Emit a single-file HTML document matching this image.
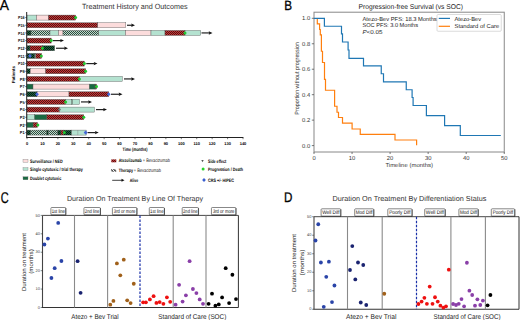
<!DOCTYPE html><html><head><meta charset="utf-8"><style>html,body{margin:0;padding:0;background:#fff;width:520px;height:320px;overflow:hidden;position:relative}</style></head><body><svg width="520" height="320" viewBox="0 0 520 320" style="position:absolute;left:0;top:0;font-family:'Liberation Sans', sans-serif;text-rendering:geometricPrecision">
<defs>
<pattern id="pr" width="2" height="2" patternUnits="userSpaceOnUse"><rect width="2" height="2" fill="#c83434"/><rect width="1" height="1" fill="#521414"/><rect x="1" y="1" width="1" height="1" fill="#521414"/></pattern>
<pattern id="pg" width="2" height="2" patternUnits="userSpaceOnUse"><rect width="2" height="2" fill="#b8e0cd"/><rect width="1" height="1" fill="#34443c"/><rect x="1" y="1" width="1" height="1" fill="#34443c"/></pattern>
<pattern id="pd" width="2" height="2" patternUnits="userSpaceOnUse"><rect width="2" height="2" fill="#186440"/><rect width="1" height="1" fill="#06180e"/><rect x="1" y="1" width="1" height="1" fill="#06180e"/></pattern>
</defs>
<rect width="520" height="320" fill="#fff"/>
<text x="-0.3" y="10.2" font-size="14.5" fill="#000" font-weight="normal" text-anchor="start" textLength="9.2" lengthAdjust="spacingAndGlyphs" stroke="#000" stroke-width="0.3" style="">A</text>
<text x="284.2" y="10.25" font-size="13.3" fill="#000" font-weight="normal" text-anchor="start" textLength="7.8" lengthAdjust="spacingAndGlyphs" stroke="#000" stroke-width="0.3" style="">B</text>
<text x="0.8" y="202.6" font-size="15.5" fill="#000" font-weight="normal" text-anchor="start" textLength="7.9" lengthAdjust="spacingAndGlyphs" stroke="#000" stroke-width="0.3" style="">C</text>
<text x="284.0" y="201.9" font-size="14.0" fill="#000" font-weight="normal" text-anchor="start" textLength="8.4" lengthAdjust="spacingAndGlyphs" stroke="#000" stroke-width="0.3" style="">D</text>
<text x="82" y="9.4" font-size="7.5" fill="#333" font-weight="normal" text-anchor="start" textLength="105.5" lengthAdjust="spacingAndGlyphs"  style="">Treatment History and Outcomes</text>
<rect x="27" y="15.09" width="9.50" height="5.0" fill="#b4e2d0" stroke="#555" stroke-width="0.4"/>
<rect x="36.5" y="15.09" width="12.00" height="5.0" fill="#fcdcdc" stroke="#555" stroke-width="0.4"/>
<rect x="48.5" y="15.09" width="27.10" height="5.0" fill="url(#pr)" stroke="#555" stroke-width="0.4"/>
<circle cx="75.6" cy="17.59" r="1.5" fill="#22c832"/>
<text x="24.6" y="19.195" font-size="4.5" fill="#111" font-weight="bold" text-anchor="end" textLength="6.6" lengthAdjust="spacingAndGlyphs"  style="">P16</text>
<line x1="25.2" y1="17.59" x2="27" y2="17.59" stroke="#222" stroke-width="0.6"/>
<rect x="27" y="22.76" width="70.80" height="5.0" fill="url(#pr)" stroke="#555" stroke-width="0.4"/>
<rect x="97.8" y="22.76" width="28.00" height="5.0" fill="#fcdcdc" stroke="#555" stroke-width="0.4"/>
<line x1="127" y1="25.26" x2="132" y2="25.26" stroke="#222" stroke-width="1.2"/>
<polygon points="131.2,23.56 135,25.26 131.2,26.96 131.8,25.26" fill="#111"/>
<text x="24.6" y="26.862000000000002" font-size="4.5" fill="#111" font-weight="bold" text-anchor="end" textLength="6.6" lengthAdjust="spacingAndGlyphs"  style="">P15</text>
<line x1="25.2" y1="25.26" x2="27" y2="25.26" stroke="#222" stroke-width="0.6"/>
<rect x="27" y="30.43" width="4.00" height="5.0" fill="url(#pd)" stroke="#555" stroke-width="0.4"/>
<rect x="31" y="30.43" width="19.00" height="5.0" fill="url(#pg)" stroke="#555" stroke-width="0.4"/>
<rect x="50" y="30.43" width="8.50" height="5.0" fill="#b4e2d0" stroke="#555" stroke-width="0.4"/>
<rect x="58.5" y="30.43" width="4.50" height="5.0" fill="#fcdcdc" stroke="#555" stroke-width="0.4"/>
<rect x="63" y="30.43" width="35.75" height="5.0" fill="url(#pg)" stroke="#555" stroke-width="0.4"/>
<rect x="98.75" y="30.43" width="26.75" height="5.0" fill="#b4e2d0" stroke="#555" stroke-width="0.4"/>
<rect x="125.5" y="30.43" width="25.50" height="5.0" fill="#fcdcdc" stroke="#555" stroke-width="0.4"/>
<rect x="151" y="30.43" width="14.00" height="5.0" fill="#b4e2d0" stroke="#555" stroke-width="0.4"/>
<rect x="165" y="30.43" width="20.00" height="5.0" fill="url(#pr)" stroke="#555" stroke-width="0.4"/>
<rect x="185" y="30.43" width="15.75" height="5.0" fill="#b4e2d0" stroke="#555" stroke-width="0.4"/>
<line x1="201.5" y1="32.93" x2="209.5" y2="32.93" stroke="#222" stroke-width="1.2"/>
<polygon points="208.7,31.23 212.5,32.93 208.7,34.63 209.3,32.93" fill="#111"/>
<circle cx="185" cy="32.93" r="1.5" fill="#22c832"/>
<text x="24.6" y="34.529" font-size="4.5" fill="#111" font-weight="bold" text-anchor="end" textLength="6.6" lengthAdjust="spacingAndGlyphs"  style="">P14</text>
<line x1="25.2" y1="32.93" x2="27" y2="32.93" stroke="#222" stroke-width="0.6"/>
<rect x="27" y="38.10" width="24.25" height="5.0" fill="url(#pr)" stroke="#555" stroke-width="0.4"/>
<line x1="53" y1="40.60" x2="61" y2="40.60" stroke="#222" stroke-width="1.2"/>
<polygon points="60.2,38.90 64,40.60 60.2,42.30 60.8,40.60" fill="#111"/>
<circle cx="51.25" cy="40.60" r="1.5" fill="#22c832"/>
<text x="24.6" y="42.196000000000005" font-size="4.5" fill="#111" font-weight="bold" text-anchor="end" textLength="6.6" lengthAdjust="spacingAndGlyphs"  style="">P13</text>
<line x1="25.2" y1="40.60" x2="27" y2="40.60" stroke="#222" stroke-width="0.6"/>
<rect x="27" y="45.76" width="3.00" height="5.0" fill="url(#pd)" stroke="#555" stroke-width="0.4"/>
<rect x="30" y="45.76" width="12.50" height="5.0" fill="url(#pr)" stroke="#555" stroke-width="0.4"/>
<rect x="42.5" y="45.76" width="12.10" height="5.0" fill="url(#pd)" stroke="#555" stroke-width="0.4"/>
<line x1="56" y1="48.26" x2="65" y2="48.26" stroke="#222" stroke-width="1.2"/>
<polygon points="64.2,46.56 68,48.26 64.2,49.96 64.8,48.26" fill="#111"/>
<circle cx="42.5" cy="48.26" r="1.5" fill="#22c832"/>
<text x="24.6" y="49.86299999999999" font-size="4.5" fill="#111" font-weight="bold" text-anchor="end" textLength="6.6" lengthAdjust="spacingAndGlyphs"  style="">P12</text>
<line x1="25.2" y1="48.26" x2="27" y2="48.26" stroke="#222" stroke-width="0.6"/>
<rect x="27" y="53.43" width="7.90" height="5.0" fill="url(#pd)" stroke="#555" stroke-width="0.4"/>
<rect x="34.9" y="53.43" width="0.95" height="5.0" fill="#b4e2d0" stroke="#555" stroke-width="0.4"/>
<rect x="35.85" y="53.43" width="5.75" height="5.0" fill="url(#pr)" stroke="#555" stroke-width="0.4"/>
<circle cx="41.3" cy="55.93" r="1.5" fill="#22c832"/>
<polygon points="30,53.83 31.9,55.93 30,58.03 28.1,55.93" fill="#4466d8"/>
<text x="24.6" y="57.529999999999994" font-size="4.5" fill="#111" font-weight="bold" text-anchor="end" textLength="6.6" lengthAdjust="spacingAndGlyphs"  style="">P11</text>
<line x1="25.2" y1="55.93" x2="27" y2="55.93" stroke="#222" stroke-width="0.6"/>
<rect x="27" y="61.10" width="57.40" height="5.0" fill="url(#pr)" stroke="#555" stroke-width="0.4"/>
<line x1="86.25" y1="63.60" x2="94.5" y2="63.60" stroke="#222" stroke-width="1.2"/>
<polygon points="93.7,61.90 97.5,63.60 93.7,65.30 94.3,63.60" fill="#111"/>
<circle cx="84.4" cy="63.60" r="1.5" fill="#22c832"/>
<text x="24.6" y="65.19699999999999" font-size="4.5" fill="#111" font-weight="bold" text-anchor="end" textLength="6.6" lengthAdjust="spacingAndGlyphs"  style="">P10</text>
<line x1="25.2" y1="63.60" x2="27" y2="63.60" stroke="#222" stroke-width="0.6"/>
<rect x="27" y="68.76" width="3.25" height="5.0" fill="url(#pd)" stroke="#555" stroke-width="0.4"/>
<rect x="30.25" y="68.76" width="15.35" height="5.0" fill="#fcdcdc" stroke="#555" stroke-width="0.4"/>
<rect x="45.6" y="68.76" width="40.00" height="5.0" fill="url(#pr)" stroke="#555" stroke-width="0.4"/>
<circle cx="85.6" cy="71.26" r="1.5" fill="#22c832"/>
<text x="24.6" y="72.86399999999999" font-size="4.5" fill="#111" font-weight="bold" text-anchor="end" textLength="4.8" lengthAdjust="spacingAndGlyphs"  style="">P9</text>
<line x1="25.2" y1="71.26" x2="27" y2="71.26" stroke="#222" stroke-width="0.6"/>
<rect x="27" y="76.43" width="52.40" height="5.0" fill="url(#pr)" stroke="#555" stroke-width="0.4"/>
<rect x="79.4" y="76.43" width="42.85" height="5.0" fill="#b4e2d0" stroke="#555" stroke-width="0.4"/>
<line x1="124" y1="78.93" x2="132" y2="78.93" stroke="#222" stroke-width="1.2"/>
<polygon points="131.2,77.23 135,78.93 131.2,80.63 131.8,78.93" fill="#111"/>
<circle cx="79.4" cy="78.93" r="1.5" fill="#22c832"/>
<text x="24.6" y="80.53099999999999" font-size="4.5" fill="#111" font-weight="bold" text-anchor="end" textLength="4.8" lengthAdjust="spacingAndGlyphs"  style="">P8</text>
<line x1="25.2" y1="78.93" x2="27" y2="78.93" stroke="#222" stroke-width="0.6"/>
<rect x="27" y="84.10" width="6.00" height="5.0" fill="#1a6a42" stroke="#555" stroke-width="0.4"/>
<rect x="33" y="84.10" width="56.40" height="5.0" fill="#fcdcdc" stroke="#555" stroke-width="0.4"/>
<rect x="89.4" y="84.10" width="5.60" height="5.0" fill="#1a6a42" stroke="#555" stroke-width="0.4"/>
<rect x="95" y="84.10" width="1.50" height="5.0" fill="url(#pr)" stroke="#555" stroke-width="0.4"/>
<circle cx="96.5" cy="86.60" r="1.5" fill="#22c832"/>
<text x="24.6" y="88.198" font-size="4.5" fill="#111" font-weight="bold" text-anchor="end" textLength="4.8" lengthAdjust="spacingAndGlyphs"  style="">P7</text>
<line x1="25.2" y1="86.60" x2="27" y2="86.60" stroke="#222" stroke-width="0.6"/>
<rect x="27" y="91.76" width="10.00" height="5.0" fill="url(#pd)" stroke="#555" stroke-width="0.4"/>
<rect x="37" y="91.76" width="32.00" height="5.0" fill="#fcdcdc" stroke="#555" stroke-width="0.4"/>
<rect x="69" y="91.76" width="39.75" height="5.0" fill="url(#pr)" stroke="#555" stroke-width="0.4"/>
<line x1="111" y1="94.26" x2="119.5" y2="94.26" stroke="#222" stroke-width="1.2"/>
<polygon points="118.7,92.56 122.5,94.26 118.7,95.96 119.3,94.26" fill="#111"/>
<polygon points="37,92.16 38.9,94.26 37,96.36 35.1,94.26" fill="#4466d8"/>
<polygon points="108.75,92.16 110.65,94.26 108.75,96.36 106.85,94.26" fill="#4466d8"/>
<text x="24.6" y="95.86499999999998" font-size="4.5" fill="#111" font-weight="bold" text-anchor="end" textLength="4.8" lengthAdjust="spacingAndGlyphs"  style="">P6</text>
<line x1="25.2" y1="94.26" x2="27" y2="94.26" stroke="#222" stroke-width="0.6"/>
<rect x="27" y="99.43" width="38.60" height="5.0" fill="url(#pr)" stroke="#555" stroke-width="0.4"/>
<rect x="65.6" y="99.43" width="14.00" height="5.0" fill="#b4e2d0" stroke="#555" stroke-width="0.4"/>
<rect x="71.2" y="99.43" width="1.60" height="5.0" fill="#9cc4b0" stroke="#555" stroke-width="0.4"/>
<line x1="81" y1="101.93" x2="89" y2="101.93" stroke="#222" stroke-width="1.2"/>
<polygon points="88.2,100.23 92,101.93 88.2,103.63 88.8,101.93" fill="#111"/>
<circle cx="65.6" cy="101.93" r="1.5" fill="#22c832"/>
<text x="24.6" y="103.53199999999998" font-size="4.5" fill="#111" font-weight="bold" text-anchor="end" textLength="4.8" lengthAdjust="spacingAndGlyphs"  style="">P5</text>
<line x1="25.2" y1="101.93" x2="27" y2="101.93" stroke="#222" stroke-width="0.6"/>
<rect x="27" y="107.10" width="32.40" height="5.0" fill="url(#pr)" stroke="#555" stroke-width="0.4"/>
<rect x="59.4" y="107.10" width="35.00" height="5.0" fill="#b4e2d0" stroke="#555" stroke-width="0.4"/>
<line x1="96" y1="109.60" x2="104" y2="109.60" stroke="#222" stroke-width="1.2"/>
<polygon points="103.2,107.90 107,109.60 103.2,111.30 103.8,109.60" fill="#111"/>
<polygon points="59.4,107.80 61.0,109.60 59.4,111.40 57.8,109.60" fill="#777"/>
<text x="24.6" y="111.19899999999998" font-size="4.5" fill="#111" font-weight="bold" text-anchor="end" textLength="4.8" lengthAdjust="spacingAndGlyphs"  style="">P4</text>
<line x1="25.2" y1="109.60" x2="27" y2="109.60" stroke="#222" stroke-width="0.6"/>
<rect x="27" y="114.77" width="7.75" height="5.0" fill="#b4e2d0" stroke="#555" stroke-width="0.4"/>
<rect x="34.75" y="114.77" width="12.15" height="5.0" fill="#1a6a42" stroke="#555" stroke-width="0.4"/>
<rect x="46.9" y="114.77" width="36.85" height="5.0" fill="url(#pr)" stroke="#555" stroke-width="0.4"/>
<circle cx="83.75" cy="117.27" r="1.5" fill="#22c832"/>
<text x="24.6" y="118.86599999999999" font-size="4.5" fill="#111" font-weight="bold" text-anchor="end" textLength="4.8" lengthAdjust="spacingAndGlyphs"  style="">P3</text>
<line x1="25.2" y1="117.27" x2="27" y2="117.27" stroke="#222" stroke-width="0.6"/>
<rect x="27" y="122.43" width="6.10" height="5.0" fill="#1a6a42" stroke="#555" stroke-width="0.4"/>
<rect x="33.1" y="122.43" width="4.40" height="5.0" fill="url(#pr)" stroke="#555" stroke-width="0.4"/>
<circle cx="37.8" cy="124.93" r="1.5" fill="#22c832"/>
<text x="24.6" y="126.53299999999999" font-size="4.5" fill="#111" font-weight="bold" text-anchor="end" textLength="4.8" lengthAdjust="spacingAndGlyphs"  style="">P2</text>
<line x1="25.2" y1="124.93" x2="27" y2="124.93" stroke="#222" stroke-width="0.6"/>
<rect x="27" y="130.10" width="3.80" height="5.0" fill="url(#pd)" stroke="#555" stroke-width="0.4"/>
<rect x="30.8" y="130.10" width="15.80" height="5.0" fill="url(#pg)" stroke="#555" stroke-width="0.4"/>
<rect x="46.6" y="130.10" width="2.00" height="5.0" fill="url(#pd)" stroke="#555" stroke-width="0.4"/>
<rect x="48.6" y="130.10" width="9.10" height="5.0" fill="url(#pg)" stroke="#555" stroke-width="0.4"/>
<rect x="57.7" y="130.10" width="3.30" height="5.0" fill="url(#pd)" stroke="#555" stroke-width="0.4"/>
<rect x="61" y="130.10" width="2.50" height="5.0" fill="url(#pr)" stroke="#555" stroke-width="0.4"/>
<rect x="63.5" y="130.10" width="8.10" height="5.0" fill="url(#pd)" stroke="#555" stroke-width="0.4"/>
<rect x="71.6" y="130.10" width="14.65" height="5.0" fill="#b4e2d0" stroke="#555" stroke-width="0.4"/>
<line x1="77.8" y1="130.10" x2="77.8" y2="135.10" stroke="#777" stroke-width="0.4"/>
<line x1="87.5" y1="132.60" x2="95.75" y2="132.60" stroke="#222" stroke-width="1.2"/>
<polygon points="94.95,130.90 98.75,132.60 94.95,134.30 95.55,132.60" fill="#111"/>
<circle cx="64.4" cy="132.60" r="1.5" fill="#22c832"/>
<polygon points="85.6,130.50 87.5,132.60 85.6,134.70 83.69999999999999,132.60" fill="#4466d8"/>
<text x="24.6" y="134.2" font-size="4.5" fill="#111" font-weight="bold" text-anchor="end" textLength="4.8" lengthAdjust="spacingAndGlyphs"  style="">P1</text>
<line x1="25.2" y1="132.60" x2="27" y2="132.60" stroke="#222" stroke-width="0.6"/>
<line x1="26.7" y1="12" x2="26.7" y2="137.5" stroke="#222" stroke-width="1"/>
<line x1="26.2" y1="137.5" x2="243.4" y2="137.5" stroke="#222" stroke-width="1"/>
<line x1="27.00" y1="137.5" x2="27.00" y2="139.2" stroke="#222" stroke-width="0.6"/>
<text x="27.0" y="144.5" font-size="4.0" fill="#000" font-weight="bold" text-anchor="middle"  style="">0</text>
<line x1="42.43" y1="137.5" x2="42.43" y2="139.2" stroke="#222" stroke-width="0.6"/>
<text x="42.43" y="144.5" font-size="4.0" fill="#000" font-weight="bold" text-anchor="middle"  style="">10</text>
<line x1="57.86" y1="137.5" x2="57.86" y2="139.2" stroke="#222" stroke-width="0.6"/>
<text x="57.86" y="144.5" font-size="4.0" fill="#000" font-weight="bold" text-anchor="middle"  style="">20</text>
<line x1="73.29" y1="137.5" x2="73.29" y2="139.2" stroke="#222" stroke-width="0.6"/>
<text x="73.29" y="144.5" font-size="4.0" fill="#000" font-weight="bold" text-anchor="middle"  style="">30</text>
<line x1="88.72" y1="137.5" x2="88.72" y2="139.2" stroke="#222" stroke-width="0.6"/>
<text x="88.72" y="144.5" font-size="4.0" fill="#000" font-weight="bold" text-anchor="middle"  style="">40</text>
<line x1="104.15" y1="137.5" x2="104.15" y2="139.2" stroke="#222" stroke-width="0.6"/>
<text x="104.15" y="144.5" font-size="4.0" fill="#000" font-weight="bold" text-anchor="middle"  style="">50</text>
<line x1="119.58" y1="137.5" x2="119.58" y2="139.2" stroke="#222" stroke-width="0.6"/>
<text x="119.58" y="144.5" font-size="4.0" fill="#000" font-weight="bold" text-anchor="middle"  style="">60</text>
<line x1="135.01" y1="137.5" x2="135.01" y2="139.2" stroke="#222" stroke-width="0.6"/>
<text x="135.01" y="144.5" font-size="4.0" fill="#000" font-weight="bold" text-anchor="middle"  style="">70</text>
<line x1="150.44" y1="137.5" x2="150.44" y2="139.2" stroke="#222" stroke-width="0.6"/>
<text x="150.44" y="144.5" font-size="4.0" fill="#000" font-weight="bold" text-anchor="middle"  style="">80</text>
<line x1="165.87" y1="137.5" x2="165.87" y2="139.2" stroke="#222" stroke-width="0.6"/>
<text x="165.87" y="144.5" font-size="4.0" fill="#000" font-weight="bold" text-anchor="middle"  style="">90</text>
<line x1="181.30" y1="137.5" x2="181.30" y2="139.2" stroke="#222" stroke-width="0.6"/>
<text x="181.3" y="144.5" font-size="4.0" fill="#000" font-weight="bold" text-anchor="middle"  style="">100</text>
<line x1="196.73" y1="137.5" x2="196.73" y2="139.2" stroke="#222" stroke-width="0.6"/>
<text x="196.73" y="144.5" font-size="4.0" fill="#000" font-weight="bold" text-anchor="middle"  style="">110</text>
<line x1="212.16" y1="137.5" x2="212.16" y2="139.2" stroke="#222" stroke-width="0.6"/>
<text x="212.16" y="144.5" font-size="4.0" fill="#000" font-weight="bold" text-anchor="middle"  style="">120</text>
<line x1="227.59" y1="137.5" x2="227.59" y2="139.2" stroke="#222" stroke-width="0.6"/>
<text x="227.59" y="144.5" font-size="4.0" fill="#000" font-weight="bold" text-anchor="middle"  style="">130</text>
<line x1="243.02" y1="137.5" x2="243.02" y2="139.2" stroke="#222" stroke-width="0.6"/>
<text x="243.02" y="144.5" font-size="4.0" fill="#000" font-weight="bold" text-anchor="middle"  style="">140</text>
<text x="135" y="151.2" font-size="4.9" fill="#000" font-weight="bold" text-anchor="middle" textLength="25" lengthAdjust="spacingAndGlyphs"  style="">Time (months)</text>
<text x="0" y="0" font-size="4.4" fill="#111" font-weight="bold" text-anchor="middle" transform="translate(15.3,74.7) rotate(-90)" style="">Patients</text>
<rect x="23" y="159.4" width="5" height="2.9" fill="#fcdcdc" stroke="#777" stroke-width="0.35"/>
<text x="30.1" y="162.5" font-size="4.9" fill="#000" font-weight="bold" text-anchor="start" textLength="32.5" lengthAdjust="spacingAndGlyphs"  style="">Surveillance / NED</text>
<rect x="23" y="167.7" width="5" height="2.7" fill="#b4e2d0" stroke="#777" stroke-width="0.35"/>
<text x="30.1" y="170.7" font-size="4.9" fill="#000" font-weight="bold" text-anchor="start" textLength="52.7" lengthAdjust="spacingAndGlyphs"  style="">Single cytotoxic / trial therapy</text>
<rect x="23" y="176.8" width="5" height="3.0" fill="#1a6a42" stroke="#777" stroke-width="0.35"/>
<text x="30.1" y="179.9" font-size="4.9" fill="#000" font-weight="bold" text-anchor="start" textLength="31.1" lengthAdjust="spacingAndGlyphs"  style="">Doublet cytotoxic</text>
<rect x="111.3" y="159.4" width="5" height="2.9" fill="url(#pr)"/>
<text x="118.7" y="162.2" font-size="4.9" fill="#000" font-weight="bold" text-anchor="start" textLength="23.1" lengthAdjust="spacingAndGlyphs"  style="">Atezolizumab</text>
<text x="142.8" y="162.3" font-size="5.0" fill="#222" font-weight="normal" text-anchor="start" textLength="27.2" lengthAdjust="spacingAndGlyphs"  style="">+ Bevacizumab</text>
<path d="M111.3,169.1 L113.6,171.8 M113.3,169.1 L115.6,171.8 M111.3,170.3 L112.4,171.8 M114.5,169.1 L116.2,171.2" stroke="#222" stroke-width="0.8"/>
<text x="118.7" y="171.9" font-size="4.9" fill="#000" font-weight="bold" text-anchor="start" textLength="14.4" lengthAdjust="spacingAndGlyphs"  style="">Therapy</text>
<text x="133.8" y="171.8" font-size="5.0" fill="#222" font-weight="normal" text-anchor="start" textLength="27.2" lengthAdjust="spacingAndGlyphs"  style="">+ Bevacizumab</text>
<line x1="112.2" y1="180.3" x2="122" y2="180.3" stroke="#111" stroke-width="0.8"/><polygon points="121.5,178.8 124.5,180.3 121.5,181.8" fill="#111"/>
<text x="129.8" y="181.9" font-size="4.9" fill="#000" font-weight="bold" text-anchor="start" textLength="8.4" lengthAdjust="spacingAndGlyphs"  style="">Alive</text>
<polygon points="201.3,159.9 203.7,159.9 202.5,162.3" fill="#555"/>
<text x="208" y="162.6" font-size="4.9" fill="#000" font-weight="bold" text-anchor="start" textLength="18.25" lengthAdjust="spacingAndGlyphs"  style="">Side effect</text>
<circle cx="203.1" cy="169.1" r="1.5" fill="#2bd42b"/>
<text x="208" y="171.0" font-size="4.9" fill="#000" font-weight="bold" text-anchor="start" textLength="35" lengthAdjust="spacingAndGlyphs"  style="">Progression / Death</text>
<polygon points="204,178.0 205.9,180 204,182.0 202.1,180" fill="#3a5fd0"/>
<text x="208" y="181.6" font-size="4.9" fill="#000" font-weight="bold" text-anchor="start" textLength="26" lengthAdjust="spacingAndGlyphs"  style="">CRS +/- HIPEC</text>
<text x="358.5" y="8.6" font-size="7" fill="#222" font-weight="normal" text-anchor="start" textLength="104.5" lengthAdjust="spacingAndGlyphs"  style="">Progression-free Survival (vs SOC)</text>
<rect x="314" y="12.2" width="190.25" height="139.8" fill="none" stroke="#888" stroke-width="1"/>
<line x1="311.8" y1="145.60" x2="314" y2="145.60" stroke="#444" stroke-width="0.7"/>
<text x="310.2" y="147.7" font-size="5.8" fill="#333" font-weight="normal" text-anchor="end" textLength="8.1" lengthAdjust="spacingAndGlyphs"  style="">0.0</text>
<line x1="311.8" y1="120.14" x2="314" y2="120.14" stroke="#444" stroke-width="0.7"/>
<text x="310.2" y="122.24" font-size="5.8" fill="#333" font-weight="normal" text-anchor="end" textLength="8.1" lengthAdjust="spacingAndGlyphs"  style="">0.2</text>
<line x1="311.8" y1="94.68" x2="314" y2="94.68" stroke="#444" stroke-width="0.7"/>
<text x="310.2" y="96.78" font-size="5.8" fill="#333" font-weight="normal" text-anchor="end" textLength="8.1" lengthAdjust="spacingAndGlyphs"  style="">0.4</text>
<line x1="311.8" y1="69.22" x2="314" y2="69.22" stroke="#444" stroke-width="0.7"/>
<text x="310.2" y="71.32" font-size="5.8" fill="#333" font-weight="normal" text-anchor="end" textLength="8.1" lengthAdjust="spacingAndGlyphs"  style="">0.6</text>
<line x1="311.8" y1="43.76" x2="314" y2="43.76" stroke="#444" stroke-width="0.7"/>
<text x="310.2" y="45.86" font-size="5.8" fill="#333" font-weight="normal" text-anchor="end" textLength="8.1" lengthAdjust="spacingAndGlyphs"  style="">0.8</text>
<line x1="311.8" y1="18.30" x2="314" y2="18.30" stroke="#444" stroke-width="0.7"/>
<text x="310.2" y="20.4" font-size="5.8" fill="#333" font-weight="normal" text-anchor="end" textLength="8.1" lengthAdjust="spacingAndGlyphs"  style="">1.0</text>
<line x1="314.00" y1="152" x2="314.00" y2="154" stroke="#444" stroke-width="0.7"/>
<text x="314.0" y="159.7" font-size="5.8" fill="#333" font-weight="normal" text-anchor="middle"  style="">0</text>
<line x1="352.05" y1="152" x2="352.05" y2="154" stroke="#444" stroke-width="0.7"/>
<text x="352.05" y="159.7" font-size="5.8" fill="#333" font-weight="normal" text-anchor="middle"  style="">10</text>
<line x1="390.10" y1="152" x2="390.10" y2="154" stroke="#444" stroke-width="0.7"/>
<text x="390.1" y="159.7" font-size="5.8" fill="#333" font-weight="normal" text-anchor="middle"  style="">20</text>
<line x1="428.15" y1="152" x2="428.15" y2="154" stroke="#444" stroke-width="0.7"/>
<text x="428.15" y="159.7" font-size="5.8" fill="#333" font-weight="normal" text-anchor="middle"  style="">30</text>
<line x1="466.20" y1="152" x2="466.20" y2="154" stroke="#444" stroke-width="0.7"/>
<text x="466.2" y="159.7" font-size="5.8" fill="#333" font-weight="normal" text-anchor="middle"  style="">40</text>
<line x1="504.25" y1="152" x2="504.25" y2="154" stroke="#444" stroke-width="0.7"/>
<text x="504.25" y="159.7" font-size="5.8" fill="#333" font-weight="normal" text-anchor="middle"  style="">50</text>
<text x="409.2" y="167.1" font-size="5.8" fill="#333" font-weight="normal" text-anchor="middle" textLength="47.6" lengthAdjust="spacingAndGlyphs"  style="">Timeline (months)</text>
<text x="0" y="0" font-size="6.0" fill="#333" font-weight="normal" text-anchor="middle" textLength="72.5" lengthAdjust="spacingAndGlyphs" transform="translate(299.0,78.4) rotate(-90)" style="">Proportion without progression</text>
<path d="M314,18.5 H317.3 V23.9 H319.6 V29.5 H320.3 V34.9 H321.4 V51.25 H322.5 V62.5 H324.5 V79.4 H325.5 V90.25 H334.6 V106.25 H337 V112.25 H338.5 V117.5 H342.5 V123.1 H352.1 V129 H360.25 V134.4 H395 V140 H416.6 V145.3" fill="none" stroke="#ff7f0e" stroke-width="1.2"/>
<path d="M314,18.4 H324.4 V26.25 H341.5 V33.9 H342.5 V42 H348.1 V50 H349 V58.3 H363.5 V65.9 H381.25 V73.75 H383.5 V81.9 H406.25 V89.75 H412.1 V97.5 H413.1 V105.5 H426.4 V115.6 H444.6 V125.6 H460.3 V135.5 H500.8" fill="none" stroke="#1f77b4" stroke-width="1.2"/>
<text x="362.5" y="20.8" font-size="5.8" fill="#222" font-weight="normal" text-anchor="start" textLength="74.5" lengthAdjust="spacingAndGlyphs"  style="">Atezo-Bev PFS: 18.3 Months</text>
<text x="362.5" y="27.1" font-size="5.8" fill="#222" font-weight="normal" text-anchor="start" textLength="55.5" lengthAdjust="spacingAndGlyphs"  style="">SOC PFS: 3.0 Months</text>
<text x="362.5" y="33.6" font-size="5.8" fill="#222" font-weight="normal" text-anchor="start" textLength="20" lengthAdjust="spacingAndGlyphs"  style=""><tspan font-style="italic">P</tspan>&lt;0.05</text>
<rect x="437" y="14.5" width="64.25" height="16.75" rx="1" fill="#fff" fill-opacity="0.8" stroke="#ccc" stroke-width="0.7"/>
<line x1="438.75" y1="18.4" x2="450" y2="18.4" stroke="#1f77b4" stroke-width="1.2"/>
<line x1="438.75" y1="26.3" x2="450" y2="26.3" stroke="#ff7f0e" stroke-width="1.2"/>
<text x="454.5" y="20.5" font-size="5.8" fill="#222" font-weight="normal" text-anchor="start" textLength="26.75" lengthAdjust="spacingAndGlyphs"  style="">Atezo-Bev</text>
<text x="454.5" y="28.4" font-size="5.8" fill="#222" font-weight="normal" text-anchor="start" textLength="44.75" lengthAdjust="spacingAndGlyphs"  style="">Standard of Care</text>
<text x="66.9" y="201.1" font-size="7.3" fill="#333" font-weight="normal" text-anchor="start" textLength="136.2" lengthAdjust="spacingAndGlyphs"  style="">Duration On Treatment By Line Of Therapy</text>
<line x1="42.5" y1="215.4" x2="238.4" y2="215.4" stroke="#333" stroke-width="0.9"/>
<line x1="42.5" y1="215.4" x2="42.5" y2="307.5" stroke="#444" stroke-width="1.1"/>
<line x1="42.0" y1="307.5" x2="238.4" y2="307.5" stroke="#333" stroke-width="1.1"/>
<line x1="238.4" y1="215.4" x2="238.4" y2="307.5" stroke="#333" stroke-width="1"/>
<line x1="74.5" y1="215.4" x2="74.5" y2="307.5" stroke="#8a8a8a" stroke-width="1.1"/>
<line x1="107.6" y1="215.4" x2="107.6" y2="307.5" stroke="#8a8a8a" stroke-width="1.1"/>
<line x1="173.2" y1="215.4" x2="173.2" y2="307.5" stroke="#8a8a8a" stroke-width="1.1"/>
<line x1="206.0" y1="215.4" x2="206.0" y2="307.5" stroke="#8a8a8a" stroke-width="1.1"/>
<line x1="140.0" y1="215.4" x2="140.0" y2="307.5" stroke="#1a30a8" stroke-width="1.2" stroke-dasharray="2.6,1.4"/>
<rect x="50.9" y="207.5" width="14.799999999999999" height="7.4" rx="0.8" fill="#fff" stroke="#555" stroke-width="0.7"/>
<path d="M65.9,208.1 V215.1 H51.2" fill="none" stroke="#222" stroke-width="0.6"/>
<text x="58.3" y="212.9" font-size="5.2" fill="#111" font-weight="normal" text-anchor="middle" textLength="13.24" lengthAdjust="spacingAndGlyphs"  style="">1st line</text>
<rect x="83.95" y="207.5" width="16.349999999999987" height="7.4" rx="0.8" fill="#fff" stroke="#555" stroke-width="0.7"/>
<path d="M100.5,208.1 V215.1 H84.25" fill="none" stroke="#222" stroke-width="0.6"/>
<text x="92.12" y="212.9" font-size="5.2" fill="#111" font-weight="normal" text-anchor="middle" textLength="14.58" lengthAdjust="spacingAndGlyphs"  style="">2nd line</text>
<rect x="112.39999999999999" y="207.5" width="24.4" height="7.4" rx="0.8" fill="#fff" stroke="#555" stroke-width="0.7"/>
<path d="M137.0,208.1 V215.1 H112.69999999999999" fill="none" stroke="#222" stroke-width="0.6"/>
<text x="124.6" y="212.9" font-size="5.2" fill="#111" font-weight="normal" text-anchor="middle" textLength="21.5" lengthAdjust="spacingAndGlyphs"  style="">3rd or more</text>
<rect x="149.3" y="207.5" width="14.999999999999995" height="7.4" rx="0.8" fill="#fff" stroke="#555" stroke-width="0.7"/>
<path d="M164.5,208.1 V215.1 H149.6" fill="none" stroke="#222" stroke-width="0.6"/>
<text x="156.8" y="212.9" font-size="5.2" fill="#111" font-weight="normal" text-anchor="middle" textLength="13.42" lengthAdjust="spacingAndGlyphs"  style="">1st line</text>
<rect x="182.20000000000002" y="207.5" width="16.15" height="7.4" rx="0.8" fill="#fff" stroke="#555" stroke-width="0.7"/>
<path d="M198.55,208.1 V215.1 H182.5" fill="none" stroke="#222" stroke-width="0.6"/>
<text x="190.28" y="212.9" font-size="5.2" fill="#111" font-weight="normal" text-anchor="middle" textLength="14.4" lengthAdjust="spacingAndGlyphs"  style="">2nd line</text>
<rect x="211.45000000000002" y="207.5" width="24.4" height="7.4" rx="0.8" fill="#fff" stroke="#555" stroke-width="0.7"/>
<path d="M236.05,208.1 V215.1 H211.75" fill="none" stroke="#222" stroke-width="0.6"/>
<text x="223.65" y="212.9" font-size="5.2" fill="#111" font-weight="normal" text-anchor="middle" textLength="21.5" lengthAdjust="spacingAndGlyphs"  style="">3rd or more</text>
<line x1="40.7" y1="307.50" x2="42.5" y2="307.50" stroke="#333" stroke-width="0.6"/>
<text x="39.9" y="308.6" font-size="4.0" fill="#444" font-weight="normal" text-anchor="end"  style="">0</text>
<line x1="40.7" y1="289.08" x2="42.5" y2="289.08" stroke="#333" stroke-width="0.6"/>
<text x="39.9" y="290.18" font-size="4.0" fill="#444" font-weight="normal" text-anchor="end"  style="">10</text>
<line x1="40.7" y1="270.66" x2="42.5" y2="270.66" stroke="#333" stroke-width="0.6"/>
<text x="39.9" y="271.76" font-size="4.0" fill="#444" font-weight="normal" text-anchor="end"  style="">20</text>
<line x1="40.7" y1="252.24" x2="42.5" y2="252.24" stroke="#333" stroke-width="0.6"/>
<text x="39.9" y="253.34" font-size="4.0" fill="#444" font-weight="normal" text-anchor="end"  style="">30</text>
<line x1="40.7" y1="233.82" x2="42.5" y2="233.82" stroke="#333" stroke-width="0.6"/>
<text x="39.9" y="234.92" font-size="4.0" fill="#444" font-weight="normal" text-anchor="end"  style="">40</text>
<line x1="40.7" y1="215.40" x2="42.5" y2="215.40" stroke="#333" stroke-width="0.6"/>
<text x="39.9" y="216.5" font-size="4.0" fill="#444" font-weight="normal" text-anchor="end"  style="">50</text>
<circle cx="58.2" cy="222.9" r="1.9" fill="#2a44a8"/>
<circle cx="47.9" cy="238.6" r="1.9" fill="#2a44a8"/>
<circle cx="44.4" cy="244.5" r="1.9" fill="#2a44a8"/>
<circle cx="61.4" cy="261" r="1.9" fill="#2a44a8"/>
<circle cx="54.7" cy="268.2" r="1.9" fill="#2a44a8"/>
<circle cx="51.4" cy="278" r="1.9" fill="#2a44a8"/>
<circle cx="77.6" cy="261.2" r="1.9" fill="#1a2370"/>
<circle cx="80.6" cy="292.8" r="1.9" fill="#1a2370"/>
<circle cx="116.9" cy="263.4" r="1.9" fill="#a0601a"/>
<circle cx="123.75" cy="259.7" r="1.9" fill="#a0601a"/>
<circle cx="120.3" cy="275.3" r="1.9" fill="#a0601a"/>
<circle cx="133.75" cy="283.75" r="1.9" fill="#a0601a"/>
<circle cx="113.4" cy="300.9" r="1.9" fill="#a0601a"/>
<circle cx="110.3" cy="304.7" r="1.9" fill="#a0601a"/>
<circle cx="127.2" cy="300.3" r="1.9" fill="#a0601a"/>
<circle cx="130.6" cy="303.1" r="1.9" fill="#a0601a"/>
<circle cx="143.1" cy="302.3" r="1.9" fill="#ee1010"/>
<circle cx="145.9" cy="302.3" r="1.9" fill="#ee1010"/>
<circle cx="149.9" cy="299.4" r="1.9" fill="#ee1010"/>
<circle cx="153.6" cy="296.2" r="1.9" fill="#ee1010"/>
<circle cx="156.4" cy="302.9" r="1.9" fill="#ee1010"/>
<circle cx="159.7" cy="302.1" r="1.9" fill="#ee1010"/>
<circle cx="163.4" cy="303.8" r="1.9" fill="#ee1010"/>
<circle cx="166.9" cy="297.3" r="1.9" fill="#ee1010"/>
<circle cx="170.2" cy="301.8" r="1.9" fill="#ee1010"/>
<circle cx="189.6" cy="261.2" r="1.9" fill="#8a3fa8"/>
<circle cx="179.1" cy="284.8" r="1.9" fill="#8a3fa8"/>
<circle cx="185.9" cy="295.3" r="1.9" fill="#8a3fa8"/>
<circle cx="192.9" cy="289" r="1.9" fill="#8a3fa8"/>
<circle cx="196.4" cy="293.1" r="1.9" fill="#8a3fa8"/>
<circle cx="182.6" cy="301.6" r="1.9" fill="#8a3fa8"/>
<circle cx="199.7" cy="299.4" r="1.9" fill="#8a3fa8"/>
<circle cx="175.6" cy="304.7" r="1.9" fill="#8a3fa8"/>
<circle cx="203" cy="303.8" r="1.9" fill="#8a3fa8"/>
<circle cx="225.7" cy="268.2" r="1.9" fill="#000"/>
<circle cx="232.4" cy="274.75" r="1.9" fill="#000"/>
<circle cx="212" cy="293.7" r="1.9" fill="#000"/>
<circle cx="222.1" cy="297.4" r="1.9" fill="#000"/>
<circle cx="236" cy="299.1" r="1.9" fill="#000"/>
<circle cx="208.6" cy="303.8" r="1.9" fill="#000"/>
<circle cx="215.4" cy="305.7" r="1.9" fill="#000"/>
<circle cx="218.75" cy="304.4" r="1.9" fill="#000"/>
<circle cx="229.1" cy="303.1" r="1.9" fill="#000"/>
<text x="0" y="0" font-size="5.8" fill="#222" font-weight="normal" text-anchor="middle" textLength="58" lengthAdjust="spacingAndGlyphs" transform="translate(25.6,262) rotate(-90)" style="">Duration on treatment</text>
<text x="0" y="0" font-size="5.8" fill="#222" font-weight="normal" text-anchor="middle" textLength="24.5" lengthAdjust="spacingAndGlyphs" transform="translate(33.3,261.5) rotate(-90)" style="">(months)</text>
<text x="71.25" y="318.5" font-size="6.9" fill="#222" font-weight="normal" text-anchor="start" textLength="47.5" lengthAdjust="spacingAndGlyphs"  style="">Atezo + Bev Trial</text>
<text x="158.25" y="318.5" font-size="6.9" fill="#222" font-weight="normal" text-anchor="start" textLength="68.0" lengthAdjust="spacingAndGlyphs"  style="">Standard of Care (SOC)</text>
<text x="332.5" y="201.1" font-size="7.3" fill="#333" font-weight="normal" text-anchor="start" textLength="154" lengthAdjust="spacingAndGlyphs"  style="">Duration On Treatment By Differentiation Status</text>
<line x1="314.0" y1="216.7" x2="519.0" y2="216.7" stroke="#333" stroke-width="0.9"/>
<line x1="314.0" y1="216.7" x2="314.0" y2="309.3" stroke="#444" stroke-width="1.1"/>
<line x1="313.5" y1="309.3" x2="519.0" y2="309.3" stroke="#333" stroke-width="1.1"/>
<line x1="519.0" y1="216.7" x2="519.0" y2="309.3" stroke="#333" stroke-width="1"/>
<line x1="347.5" y1="216.7" x2="347.5" y2="309.3" stroke="#8a8a8a" stroke-width="1.1"/>
<line x1="382.2" y1="216.7" x2="382.2" y2="309.3" stroke="#8a8a8a" stroke-width="1.1"/>
<line x1="450.9" y1="216.7" x2="450.9" y2="309.3" stroke="#8a8a8a" stroke-width="1.1"/>
<line x1="485.4" y1="216.7" x2="485.4" y2="309.3" stroke="#8a8a8a" stroke-width="1.1"/>
<line x1="416.5" y1="216.7" x2="416.5" y2="309.3" stroke="#1a30a8" stroke-width="1.2" stroke-dasharray="2.6,1.4"/>
<rect x="321.1" y="208.79999999999998" width="19.599999999999987" height="7.4" rx="0.8" fill="#fff" stroke="#555" stroke-width="0.7"/>
<path d="M340.9,209.39999999999998 V216.39999999999998 H321.40000000000003" fill="none" stroke="#222" stroke-width="0.6"/>
<text x="330.9" y="214.2" font-size="5.2" fill="#111" font-weight="normal" text-anchor="middle" textLength="17.37" lengthAdjust="spacingAndGlyphs"  style="">Well Diff</text>
<rect x="354.7" y="208.79999999999998" width="19.00000000000002" height="7.4" rx="0.8" fill="#fff" stroke="#555" stroke-width="0.7"/>
<path d="M373.9,209.39999999999998 V216.39999999999998 H355.0" fill="none" stroke="#222" stroke-width="0.6"/>
<text x="364.2" y="214.2" font-size="5.2" fill="#111" font-weight="normal" text-anchor="middle" textLength="16.86" lengthAdjust="spacingAndGlyphs"  style="">Mod Diff</text>
<rect x="387.8" y="208.79999999999998" width="24.20000000000001" height="7.4" rx="0.8" fill="#fff" stroke="#555" stroke-width="0.7"/>
<path d="M412.2,209.39999999999998 V216.39999999999998 H388.1" fill="none" stroke="#222" stroke-width="0.6"/>
<text x="399.9" y="214.2" font-size="5.2" fill="#111" font-weight="normal" text-anchor="middle" textLength="21.33" lengthAdjust="spacingAndGlyphs"  style="">Poorly Diff</text>
<rect x="424.7" y="208.79999999999998" width="20.4" height="7.4" rx="0.8" fill="#fff" stroke="#555" stroke-width="0.7"/>
<path d="M445.29999999999995,209.39999999999998 V216.39999999999998 H425.0" fill="none" stroke="#222" stroke-width="0.6"/>
<text x="434.9" y="214.2" font-size="5.2" fill="#111" font-weight="normal" text-anchor="middle" textLength="18.06" lengthAdjust="spacingAndGlyphs"  style="">Well Diff</text>
<rect x="458.90000000000003" y="208.79999999999998" width="19.199999999999953" height="7.4" rx="0.8" fill="#fff" stroke="#555" stroke-width="0.7"/>
<path d="M478.29999999999995,209.39999999999998 V216.39999999999998 H459.20000000000005" fill="none" stroke="#222" stroke-width="0.6"/>
<text x="468.5" y="214.2" font-size="5.2" fill="#111" font-weight="normal" text-anchor="middle" textLength="17.03" lengthAdjust="spacingAndGlyphs"  style="">Mod Diff</text>
<rect x="491.3" y="208.79999999999998" width="23.4" height="7.4" rx="0.8" fill="#fff" stroke="#555" stroke-width="0.7"/>
<path d="M514.9,209.39999999999998 V216.39999999999998 H491.6" fill="none" stroke="#222" stroke-width="0.6"/>
<text x="503.0" y="214.2" font-size="5.2" fill="#111" font-weight="normal" text-anchor="middle" textLength="20.64" lengthAdjust="spacingAndGlyphs"  style="">Poorly Diff</text>
<line x1="312.2" y1="309.30" x2="314.0" y2="309.30" stroke="#333" stroke-width="0.6"/>
<text x="311.4" y="310.4" font-size="4.0" fill="#444" font-weight="normal" text-anchor="end"  style="">0</text>
<line x1="312.2" y1="290.78" x2="314.0" y2="290.78" stroke="#333" stroke-width="0.6"/>
<text x="311.4" y="291.88" font-size="4.0" fill="#444" font-weight="normal" text-anchor="end"  style="">10</text>
<line x1="312.2" y1="272.26" x2="314.0" y2="272.26" stroke="#333" stroke-width="0.6"/>
<text x="311.4" y="273.36" font-size="4.0" fill="#444" font-weight="normal" text-anchor="end"  style="">20</text>
<line x1="312.2" y1="253.74" x2="314.0" y2="253.74" stroke="#333" stroke-width="0.6"/>
<text x="311.4" y="254.84" font-size="4.0" fill="#444" font-weight="normal" text-anchor="end"  style="">30</text>
<line x1="312.2" y1="235.22" x2="314.0" y2="235.22" stroke="#333" stroke-width="0.6"/>
<text x="311.4" y="236.32" font-size="4.0" fill="#444" font-weight="normal" text-anchor="end"  style="">40</text>
<line x1="312.2" y1="216.70" x2="314.0" y2="216.70" stroke="#333" stroke-width="0.6"/>
<text x="311.4" y="217.8" font-size="4.0" fill="#444" font-weight="normal" text-anchor="end"  style="">50</text>
<circle cx="318.25" cy="224.25" r="1.9" fill="#2a44a8"/>
<circle cx="315.5" cy="240.5" r="1.9" fill="#2a44a8"/>
<circle cx="320.9" cy="262.5" r="1.9" fill="#2a44a8"/>
<circle cx="328.9" cy="261.7" r="1.9" fill="#2a44a8"/>
<circle cx="326.25" cy="276.8" r="1.9" fill="#2a44a8"/>
<circle cx="334.45" cy="285.5" r="1.9" fill="#2a44a8"/>
<circle cx="332" cy="302.1" r="1.9" fill="#2a44a8"/>
<circle cx="323.75" cy="306.8" r="1.9" fill="#2a44a8"/>
<circle cx="352.3" cy="246.1" r="1.9" fill="#1a2370"/>
<circle cx="350" cy="270" r="1.9" fill="#1a2370"/>
<circle cx="358" cy="262.5" r="1.9" fill="#1a2370"/>
<circle cx="363.25" cy="265" r="1.9" fill="#1a2370"/>
<circle cx="355.3" cy="279.4" r="1.9" fill="#1a2370"/>
<circle cx="360.75" cy="302.5" r="1.9" fill="#1a2370"/>
<circle cx="366.25" cy="305" r="1.9" fill="#1a2370"/>
<circle cx="384.25" cy="293.75" r="1.9" fill="#a0601a"/>
<circle cx="448.8" cy="269.7" r="1.9" fill="#ee1010"/>
<circle cx="429.7" cy="286.6" r="1.9" fill="#ee1010"/>
<circle cx="424.4" cy="297.8" r="1.9" fill="#ee1010"/>
<circle cx="421.6" cy="301.6" r="1.9" fill="#ee1010"/>
<circle cx="418.4" cy="304" r="1.9" fill="#ee1010"/>
<circle cx="426.9" cy="303.8" r="1.9" fill="#ee1010"/>
<circle cx="432.5" cy="303.8" r="1.9" fill="#ee1010"/>
<circle cx="435" cy="297.25" r="1.9" fill="#ee1010"/>
<circle cx="437.75" cy="301.6" r="1.9" fill="#ee1010"/>
<circle cx="440.4" cy="305.7" r="1.9" fill="#ee1010"/>
<circle cx="443.4" cy="307.6" r="1.9" fill="#ee1010"/>
<circle cx="446" cy="306.3" r="1.9" fill="#ee1010"/>
<circle cx="466.9" cy="262.75" r="1.9" fill="#8a3fa8"/>
<circle cx="469.4" cy="290.7" r="1.9" fill="#8a3fa8"/>
<circle cx="472.2" cy="295" r="1.9" fill="#8a3fa8"/>
<circle cx="461.5" cy="299.1" r="1.9" fill="#8a3fa8"/>
<circle cx="464.1" cy="306.3" r="1.9" fill="#8a3fa8"/>
<circle cx="477.4" cy="299.3" r="1.9" fill="#8a3fa8"/>
<circle cx="482.9" cy="300.6" r="1.9" fill="#8a3fa8"/>
<circle cx="475" cy="305.7" r="1.9" fill="#8a3fa8"/>
<circle cx="480.3" cy="305" r="1.9" fill="#8a3fa8"/>
<circle cx="453.1" cy="304" r="1.9" fill="#8a3fa8"/>
<circle cx="456" cy="305" r="1.9" fill="#8a3fa8"/>
<circle cx="458.75" cy="303.8" r="1.9" fill="#8a3fa8"/>
<circle cx="490.4" cy="295" r="1.9" fill="#000"/>
<circle cx="487.6" cy="305.3" r="1.9" fill="#000"/>
<text x="0" y="0" font-size="5.8" fill="#222" font-weight="normal" text-anchor="middle" textLength="58" lengthAdjust="spacingAndGlyphs" transform="translate(296.3,263) rotate(-90)" style="">Duration on treatment</text>
<text x="0" y="0" font-size="5.8" fill="#222" font-weight="normal" text-anchor="middle" textLength="26" lengthAdjust="spacingAndGlyphs" transform="translate(304.3,262.5) rotate(-90)" style="">(months)</text>
<text x="346" y="318.5" font-size="6.9" fill="#222" font-weight="normal" text-anchor="start" textLength="50.5" lengthAdjust="spacingAndGlyphs"  style="">Atezo + Bev Trial</text>
<text x="433.5" y="318.5" font-size="6.9" fill="#222" font-weight="normal" text-anchor="start" textLength="67.0" lengthAdjust="spacingAndGlyphs"  style="">Standard of Care (SOC)</text>
</svg></body></html>
